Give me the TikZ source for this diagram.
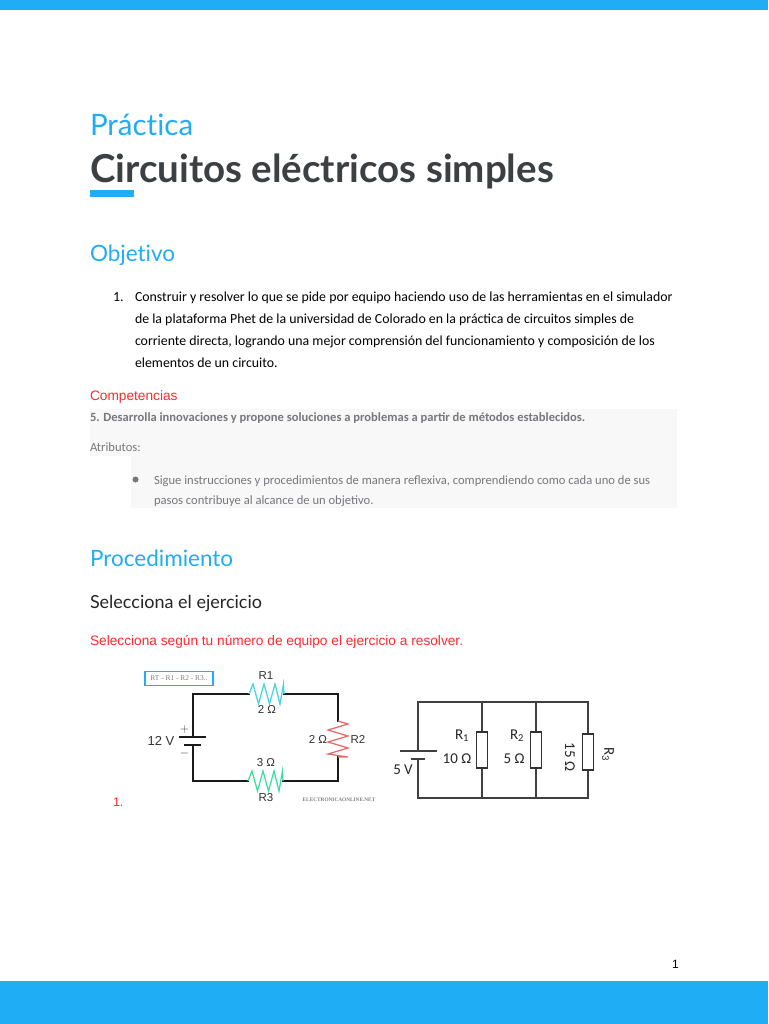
\documentclass[tikz,border=0pt]{standalone}
\usepackage{fontspec}
\setmainfont{Lato}[Ligatures=NoCommon]
\newfontfamily\calfont{Carlito}
\newfontfamily\libfont{Liberation Sans}
\newfontfamily\serfont{Liberation Serif}
\definecolor{brand}{HTML}{1FADF5}
\definecolor{ink}{HTML}{3C4043}
\definecolor{redt}{HTML}{FF2A2A}
\definecolor{panel}{HTML}{F8F8F8}
\definecolor{greytx}{HTML}{77777C}
\definecolor{wirek}{HTML}{1A1A1A}
\definecolor{zcyan}{HTML}{45D5E0}
\definecolor{zred}{HTML}{E8696B}
\definecolor{zgreen}{HTML}{3FDDA0}
\tikzset{
 txt/.style={anchor=base west,inner sep=0pt,outer sep=0pt},
 h1/.style={txt,text=brand,font=\fontsize{22.5}{24}\selectfont},
 body/.style={txt,text=black,font=\calfont\fontsize{13.85}{16}\selectfont},
 grey/.style={txt,text=greytx,font=\calfont\fontsize{12.6}{15}\selectfont},
 cl/.style={inner sep=0pt,text=black!80,font=\libfont\fontsize{11.5}{12}\selectfont},
 cs/.style={inner sep=0pt,text=black!85,font=\calfont\fontsize{15}{16}\selectfont},
 wire/.style={draw=wirek,line width=2.6pt,line join=miter,line cap=rect},
 thinwire/.style={draw=black!75,line width=1.1pt},
 zig/.style={line width=1.25pt,line join=miter},
 rbox/.style={draw=black!80,line width=1.2pt,fill=white,minimum width=11pt,minimum height=36pt,inner sep=0pt},
}
\begin{document}
\begin{tikzpicture}[x=1pt,y=-1pt]
\useasboundingbox (0,0) rectangle (768,1024);
\fill[white] (0,0) rectangle (768,1024);
\fill[brand] (0,0) rectangle (768,10);
\fill[brand] (0,981) rectangle (768,1024);
\fill[brand] (90,190) rectangle (134,197);
\fill[panel] (90,409) rectangle (677,456);
\fill[panel] (131,456) rectangle (677,508);

\node[txt,text=brand,font=\fontsize{29.5}{32}\selectfont] (t1) at (90,136) {Práctica};
\node[txt,text=ink,font=\bfseries\fontsize{38.5}{40}\selectfont] (t2) at (90,182.5) {Circuitos eléctricos simples};
\node[h1] (h1a) at (90,261) {Objetivo};
\node[body] (n1) at (113,301) {1.};
\node[body] (l1) at (135,301) {Construir y resolver lo que se pide por equipo haciendo uso de las herramientas en el simulador};
\node[body] (l2) at (135,323) {de la plataforma Phet de la universidad de Colorado en la práctica de circuitos simples de};
\node[body] (l3) at (135,345) {corriente directa, logrando una mejor comprensión del funcionamiento y composición de los};
\node[body] (l4) at (135,367) {elementos de un circuito.};
\node[txt,text=redt,font=\libfont\fontsize{13.7}{16}\selectfont] (comp) at (90,400) {Competencias};
\node[grey,font=\calfont\bfseries\fontsize{12.55}{15}\selectfont] (c5) at (90,421) {5. Desarrolla innovaciones y propone soluciones a problemas a partir de métodos establecidos.};
\node[grey] (attr) at (90,451) {Atributos:};
\fill[greytx] (135.5,479.5) circle (3pt);
\node[grey] (s1) at (154,484) {Sigue instrucciones y procedimientos de manera reflexiva, comprendiendo como cada uno de sus};
\node[grey] (s2) at (154,504) {pasos contribuye al alcance de un objetivo.};
\node[h1] (h1b) at (90,566) {Procedimiento};
\node[txt,text=black!85,font=\fontsize{18}{20}\selectfont] (sel) at (90,608) {Selecciona el ejercicio};
\node[txt,text=redt,font=\libfont\fontsize{13.7}{16}\selectfont] (sel2) at (90,645) {Selecciona según tu número de equipo el ejercicio a resolver.};
\node[txt,text=redt,font=\libfont\fontsize{12.5}{14}\selectfont] (one) at (113,806) {1.};
\node[txt,text=black,font=\libfont\fontsize{12}{14}\selectfont] (pg) at (672,968) {1};

% series circuit
\node[draw=brand,line width=1.2pt,fill=white,minimum width=68pt,minimum height=14pt,inner sep=0pt,text=black!50,font=\serfont\fontsize{7.4}{8}\selectfont] (rt) at (179,678.5) {RT - R1 - R2 - R3..};
\coordinate (tl) at (193,694);
\coordinate (tr) at (338,694);
\coordinate (bl) at (193,781);
\coordinate (br) at (338,781);
\coordinate (b1) at (193,737);
\coordinate (b2) at (193,745);
\coordinate (r1a) at (249,694);
\coordinate (r1b) at (284,694);
\coordinate (r2a) at (338,721);
\coordinate (r2b) at (338,757);
\coordinate (r3a) at (248,781);
\coordinate (r3b) at (283,781);
\draw[wire] (b1) -- (tl) -- (r1a);
\draw[wire] (r1b) -- (tr) -- (r2a);
\draw[wire] (r2b) -- (br) -- (r3b);
\draw[wire] (r3a) -- (bl) -- (b2);
\draw[wirek,line width=2.4pt] (179,737) -- (206,737);
\draw[wirek,line width=2.4pt] (184,745) -- (201,745);
\draw[zig,draw=zcyan] (r1a) -- ++(4,-10) -- ++(5.5,20) -- ++(5.5,-20) -- ++(5.5,20) -- ++(5.5,-20) -- ++(5,20) -- ++(3.5,-20) -- (r1b);
\draw[zig,draw=zgreen] (r3a) -- ++(4,-10) -- ++(5.5,20) -- ++(5.5,-20) -- ++(5.5,20) -- ++(5.5,-20) -- ++(5,20) -- ++(3.5,-20) -- (r3b);
\draw[zig,draw=zred] (r2a) -- ++(10,3) -- ++(-20,6) -- ++(20,6) -- ++(-20,6) -- ++(20,6) -- ++(-20,6) -- ++(20,3) -- (r2b);
\node[cl] (lr1) at (266,675.5) {R1};
\node[cl] (lv1) at (267,709.5) {2 Ω};
\node[cl] (lr3) at (266,798) {R3};
\node[cl] (lv3) at (266,763) {3 Ω};
\node[cl] (lv2) at (318,739) {2 Ω};
\node[cl] (lr2) at (358,739.5) {R2};
\node[cl,font=\libfont\fontsize{13}{14}\selectfont] (lv) at (161,741) {12 V};
\node[cl] (plus) at (184.5,729) {$+$};
\node[cl] (minus) at (184.5,753) {$-$};
\node[inner sep=0pt,text=black!50,font=\serfont\bfseries\fontsize{5.3}{6}\selectfont] (wm) at (339,799.5) {ELECTRONICAONLINE.NET};

% parallel circuit
\coordinate (ptl) at (418,702);
\coordinate (pbl) at (418,798);
\coordinate (pt1) at (482,702);
\coordinate (pb1) at (482,798);
\coordinate (pt2) at (536,702);
\coordinate (pb2) at (536,798);
\coordinate (pt3) at (588,702);
\coordinate (pb3) at (588,798);
\coordinate (pc1) at (418,751);
\coordinate (pc2) at (418,759);
\node[rbox] (R1) at (482,750) {};
\node[rbox] (R2) at (536,750) {};
\node[rbox] (R3) at (588,752) {};
\draw[thinwire] (pc1) -- (ptl) -- (pt1) -- (pt2) -- (pt3) -- (R3.north);
\draw[thinwire] (pc2) -- (pbl) -- (pb1) -- (pb2) -- (pb3) -- (R3.south);
\draw[thinwire] (pt1) -- (R1.north);
\draw[thinwire] (pb1) -- (R1.south);
\draw[thinwire] (pt2) -- (R2.north);
\draw[thinwire] (pb2) -- (R2.south);
\draw[thinwire] (400,751) -- (437,751);
\draw[thinwire] (411,759) -- (425,759);
\node[cs] (p5) at (403,770) {5 V};
\node[cs] (pr1) at (462,736) {R\textsubscript{1}};
\node[cs] (pv1) at (457,759) {10 Ω};
\node[cs] (pr2) at (517,736) {R\textsubscript{2}};
\node[cs] (pv2) at (514,759) {5 Ω};
\node[cs,rotate=-90] (pr3) at (608,754) {R\textsubscript{3}};
\node[cs,rotate=-90] (pv3) at (570,757) {15 Ω};
\end{tikzpicture}
\end{document}
